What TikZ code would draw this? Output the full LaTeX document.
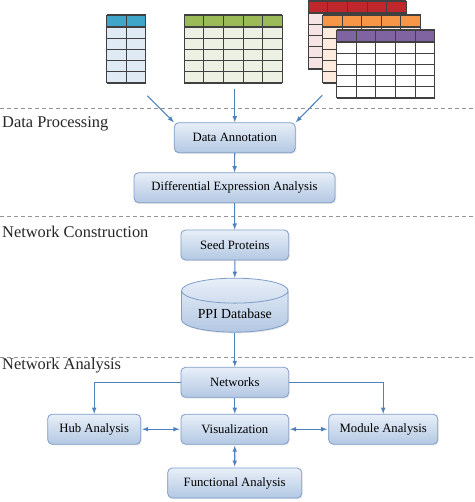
\documentclass[tikz,border=0pt]{standalone}
\usepackage{fontspec}
\setmainfont{Liberation Serif}
\usetikzlibrary{shapes.geometric,shadows}

\definecolor{arrowblue}{HTML}{4F81BD}
\definecolor{boxedge}{HTML}{7F9DC9}
\definecolor{boxtop}{HTML}{E8EFF8}
\definecolor{boxbottom}{HTML}{B3C8E3}
\definecolor{gridgray}{HTML}{404040}
\definecolor{headblue}{HTML}{3FA6C9}
\definecolor{bodyblue}{HTML}{DFEAF5}
\definecolor{headgreen}{HTML}{9BBB59}
\definecolor{bodygreen}{HTML}{EDF1E3}
\definecolor{headred}{HTML}{C0272D}
\definecolor{bodyred}{HTML}{F6E4E4}
\definecolor{headorange}{HTML}{F79646}
\definecolor{bodyorange}{HTML}{FDEBDD}
\definecolor{headpurple}{HTML}{8064A2}

\newcommand{\datatable}[5]{%
\fill[#5] (#1,#2) rectangle (#1+#3*19.6,#2+68);
\fill[#4] (#1,#2) rectangle (#1+#3*19.6,#2+12);
\foreach \colno in {0,...,#3} \draw[gridgray,line width=1.1pt] (#1+\colno*19.6,#2) -- (#1+\colno*19.6,#2+68);
\foreach \rowno in {0,...,5} \draw[gridgray,line width=1.1pt] (#1,#2+12+\rowno*11.2) -- (#1+#3*19.6,#2+12+\rowno*11.2);
\draw[gridgray,line width=1.1pt] (#1,#2) -- (#1+#3*19.6,#2);
}

\begin{document}
\begin{tikzpicture}[x=1pt,y=-1pt,
  procbox/.style={draw=boxedge,line width=0.8pt,rounded corners=4.5pt,top color=boxtop,bottom color=boxbottom,
    minimum height=30pt,inner sep=2pt,font=\fontsize{12.7}{14}\selectfont,
    drop shadow={opacity=0.2,shadow xshift=1pt,shadow yshift=-1.2pt}},
  stage/.style={anchor=west,inner sep=0pt,font=\fontsize{16.4}{18}\selectfont,text=black!85},
  flow/.style={draw=arrowblue,line width=1.1pt,>=latex,->},
  divider/.style={draw=black!42,line width=1.3pt,dash pattern=on 4.3pt off 2.7pt}]

\useasboundingbox (0,0) rectangle (474,502);

\datatable{106.7}{15}{2}{headblue}{bodyblue}
\datatable{184.3}{15}{5}{headgreen}{bodygreen}
\datatable{308.3}{1}{5}{headred}{bodyred}
\datatable{322.5}{15}{5}{headorange}{bodyorange}
\datatable{336.7}{30}{5}{headpurple}{white}

\draw[divider] (0,108.5) -- (474,108.5);
\draw[divider] (0,216.7) -- (474,216.7);
\draw[divider] (0,357.3) -- (474,357.3);

\node[stage] (proc) at (2,124.3) {Data Processing};
\node[stage] (constr) at (2,231.7) {Network Construction};
\node[stage] (anal) at (2,365.5) {Network Analysis};

\node[procbox,minimum width=121pt] (annot) at (234.8,137.7) {Data Annotation};
\node[procbox,minimum width=201pt] (dea) at (234.5,187.7) {Differential Expression Analysis};
\node[procbox,minimum width=107.7pt] (seed) at (234.8,245) {Seed Proteins};
\node[procbox,cylinder,shape border rotate=90,aspect=0.32,rounded corners=0pt,
  minimum width=106.5pt,minimum height=54pt,font=\fontsize{13.8}{15}\selectfont] (ppi) at (234.8,313.3) {PPI Database};
\node[procbox,minimum width=107.7pt] (net) at (234.8,382.3) {Networks};
\node[procbox,minimum width=93pt] (hub) at (94.2,429.2) {Hub Analysis};
\node[procbox,minimum width=107.7pt] (vis) at (234.8,429.2) {Visualization};
\node[procbox,minimum width=109pt] (module) at (383.2,429.2) {Module Analysis};
\node[procbox,minimum width=134pt] (func) at (234.7,483) {Functional Analysis};

\coordinate (srcA) at (147.3,95.7);
\coordinate (srcB) at (234.8,88.7);
\coordinate (srcC) at (322.3,95.3);

\draw[flow] (srcA) -- (annot.north west);
\draw[flow] (srcB) -- (annot.north);
\draw[flow] (srcC) -- (annot.north east);
\draw[flow] (annot) -- (dea);
\draw[flow] (dea) -- (seed);
\draw[flow] (seed) -- (ppi);
\draw[flow] (ppi) -- (net);
\draw[flow] (net.west) -| (hub.north);
\draw[flow] (net.east) -| (module.north);
\draw[flow] (net) -- (vis);
\draw[flow,<->,shorten <=1pt,shorten >=1pt] (hub) -- (vis);
\draw[flow,<->,shorten <=1pt,shorten >=1pt] (vis) -- (module);
\draw[flow,<->,shorten <=1pt,shorten >=1pt] (vis) -- (func);

\end{tikzpicture}
\end{document}
